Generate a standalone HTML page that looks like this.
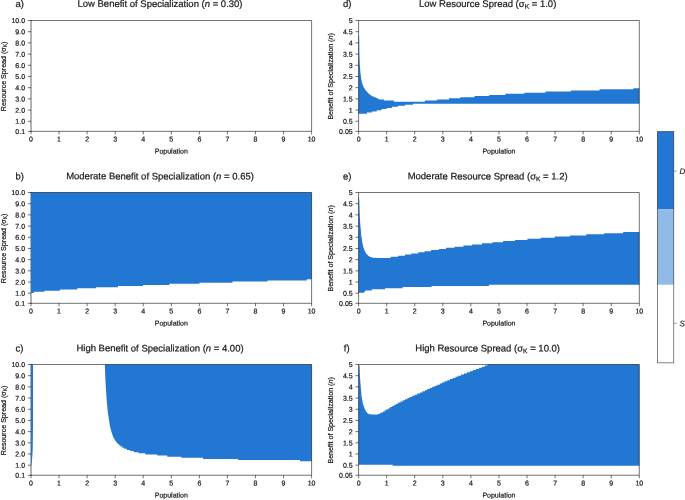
<!DOCTYPE html>
<html lang="en"><head><meta charset="utf-8"><title>Figure</title>
<style>html,body{margin:0;padding:0;background:#fff}body{width:685px;height:500px;overflow:hidden}svg{display:block}</style></head>
<body>
<svg width="685" height="500" viewBox="0 0 685 500" font-family="'Liberation Sans', sans-serif">
<style>text{stroke:#1a1a1a;stroke-width:0.22px;}</style>
<rect width="685" height="500" fill="#fff"/>
<path d="M31.00 20.00V131.85M31.00 192.00V303.80M31.00 364.00V475.75" stroke="#000" stroke-opacity="0.6" stroke-width="1" fill="none"/>
<g fill="#2277d3">
<polygon points="31.00,192.50 311.60,192.50 311.60,279.28 306.83,279.28 306.83,280.41 267.55,280.41 267.55,281.55 232.47,281.55 232.47,282.69 199.36,282.69 199.36,283.82 169.34,283.82 169.34,284.95 142.96,284.95 142.96,286.09 117.99,286.09 117.99,287.22 96.10,287.22 96.10,288.36 77.30,288.36 77.30,289.50 59.90,289.50 59.90,290.63 44.47,290.63 44.47,291.76 33.81,291.76 33.81,292.90 31.00,292.90"/>
<polygon points="104.80,364.50 104.80,364.40 105.50,382.00 106.10,391.00 106.60,399.60 107.90,412.80 109.90,426.00 111.40,431.80 113.20,437.00 115.20,440.60 117.60,443.60 119.00,444.38 119.25,444.38 119.25,445.50 120.50,445.50 120.50,446.62 122.25,446.62 122.25,447.74 124.25,447.74 124.25,448.86 126.75,448.86 126.75,449.99 130.00,449.99 130.00,451.11 133.75,451.11 133.75,452.23 138.50,452.23 138.50,453.35 145.25,453.35 145.25,454.47 157.25,454.47 157.25,455.59 167.25,455.59 167.25,456.71 181.25,456.71 181.25,457.84 203.00,457.84 203.00,458.96 238.00,458.96 238.00,460.08 300.00,460.08 300.00,461.20 311.50,461.20 311.60,461.20 311.60,364.50"/>
<polygon points="358.60,34.00 359.20,38.00 359.35,53.00 359.80,64.20 360.40,72.60 361.10,78.20 361.75,81.60 362.40,84.00 363.70,87.20 365.80,90.60 368.30,93.30 369.70,94.40 372.50,96.20 376.00,97.70 378.80,98.90 378.80,99.40 384.00,99.40 384.00,100.50 393.80,100.50 393.80,101.65 424.85,101.65 424.85,100.50 437.10,100.50 437.10,99.40 449.00,99.40 449.00,98.25 460.40,98.25 460.40,97.15 474.50,97.15 474.50,96.00 489.30,96.00 489.30,94.90 505.20,94.90 505.20,93.80 524.30,93.80 524.30,92.65 545.50,92.65 545.50,91.55 570.90,91.55 570.90,90.40 599.50,90.40 599.50,89.30 633.40,89.30 633.40,88.20 639.30,88.20 639.30,103.75 413.00,103.75 413.00,104.70 405.10,104.70 405.10,105.70 397.90,105.70 397.90,106.80 392.10,106.80 392.10,107.90 386.80,107.90 386.80,109.00 381.60,109.00 381.60,110.20 376.70,110.20 376.70,111.40 371.80,111.40 371.80,112.50 366.90,112.50 366.90,113.70 358.60,113.70"/>
<polygon points="358.60,196.00 359.25,200.00 359.65,212.50 360.30,224.50 361.20,235.00 362.60,244.00 364.00,249.25 366.25,253.75 369.25,256.45 373.00,257.80 379.00,257.90 390.70,257.90 390.70,256.78 398.20,256.78 398.20,255.66 405.00,255.66 405.00,254.54 411.20,254.54 411.20,253.41 418.30,253.41 418.30,252.29 424.50,252.29 424.50,251.17 431.10,251.17 431.10,250.05 438.80,250.05 438.80,248.93 446.00,248.93 446.00,247.81 454.50,247.81 454.50,246.68 463.40,246.68 463.40,245.56 472.20,245.56 472.20,244.44 482.00,244.44 482.00,243.32 492.30,243.32 492.30,242.20 503.10,242.20 503.10,241.08 514.90,241.08 514.90,239.96 527.40,239.96 527.40,238.83 540.60,238.83 540.60,237.71 554.80,237.71 554.80,236.59 570.00,236.59 570.00,235.47 586.20,235.47 586.20,234.35 604.20,234.35 604.20,233.23 623.20,233.23 623.20,232.11 639.30,232.11 639.30,284.70 488.90,284.70 488.90,285.90 431.50,285.90 431.50,287.00 402.60,287.00 402.60,288.15 385.00,288.15 385.00,289.30 371.80,289.30 371.80,290.50 365.50,290.50 363.90,292.85 358.60,292.85"/>
<polygon points="358.90,364.50 359.56,366.00 360.04,378.00 360.76,387.60 361.60,396.00 362.80,403.20 364.36,408.00 366.04,411.40 367.50,413.30 369.30,414.30 373.00,414.50 377.60,414.40 379.00,413.80 380.00,413.72 380.50,413.72 380.50,412.60 383.00,412.60 383.00,411.48 384.75,411.48 384.75,410.37 386.50,410.37 386.50,409.25 388.50,409.25 388.50,408.13 390.25,408.13 390.25,407.01 392.25,407.01 392.25,405.89 394.25,405.89 394.25,404.77 396.25,404.77 396.25,403.65 398.25,403.65 398.25,402.54 400.50,402.54 400.50,401.42 402.75,401.42 402.75,400.30 405.00,400.30 405.00,399.18 407.50,399.18 407.50,398.06 409.75,398.06 409.75,396.94 412.25,396.94 412.25,395.82 414.75,395.82 414.75,394.70 417.25,394.70 417.25,393.59 420.00,393.59 420.00,392.47 422.50,392.47 422.50,391.35 425.00,391.35 425.00,390.23 427.25,390.23 427.25,389.11 429.75,389.11 429.75,387.99 432.25,387.99 432.25,386.87 434.75,386.87 434.75,385.76 437.25,385.76 437.25,384.64 439.75,384.64 439.75,383.52 442.00,383.52 442.00,382.40 444.50,382.40 444.50,381.28 447.25,381.28 447.25,380.16 450.00,380.16 450.00,379.04 452.75,379.04 452.75,377.92 455.50,377.92 455.50,376.81 458.00,376.81 458.00,375.69 461.00,375.69 461.00,374.57 464.00,374.57 464.00,373.45 467.00,373.45 467.00,372.33 470.00,372.33 470.00,371.21 472.75,371.21 472.75,370.09 476.00,370.09 476.00,368.97 479.00,368.97 479.00,367.86 482.00,367.86 482.00,366.74 484.75,366.74 484.75,365.62 487.50,365.62 487.50,364.50 488.50,364.50 639.30,364.50 639.30,465.70 392.70,465.70 392.70,464.85 358.60,464.85 358.60,364.50"/>
</g>
<path d="M30.50 20.50H311.60V131.35H30.50M27.80 20.50H31.00M27.80 31.70H31.00M27.80 42.89H31.00M27.80 54.09H31.00M27.80 65.29H31.00M27.80 76.48H31.00M27.80 87.68H31.00M27.80 98.88H31.00M27.80 110.08H31.00M27.80 121.27H31.00M27.80 131.35H31.00M31.00 131.35V134.35M59.06 131.35V134.35M87.12 131.35V134.35M115.18 131.35V134.35M143.24 131.35V134.35M171.30 131.35V134.35M199.36 131.35V134.35M227.42 131.35V134.35M255.48 131.35V134.35M283.54 131.35V134.35M311.60 131.35V134.35" stroke="#000" stroke-opacity="0.55" stroke-width="1" fill="none"/>
<g font-size="7" fill="#1a1a1a">
<g text-anchor="end">
<text transform="translate(25.10 23.10) rotate(0.03)">10.0</text>
<text transform="translate(25.10 34.30) rotate(0.03)">9.0</text>
<text transform="translate(25.10 45.49) rotate(0.03)">8.0</text>
<text transform="translate(25.10 56.69) rotate(0.03)">7.0</text>
<text transform="translate(25.10 67.89) rotate(0.03)">6.0</text>
<text transform="translate(25.10 79.08) rotate(0.03)">5.0</text>
<text transform="translate(25.10 90.28) rotate(0.03)">4.0</text>
<text transform="translate(25.10 101.48) rotate(0.03)">3.0</text>
<text transform="translate(25.10 112.68) rotate(0.03)">2.0</text>
<text transform="translate(25.10 123.87) rotate(0.03)">1.0</text>
<text transform="translate(25.10 133.95) rotate(0.03)">0.1</text>
</g><g text-anchor="middle">
<text transform="translate(31.00 141.60) rotate(0.03)">0</text>
<text transform="translate(59.06 141.60) rotate(0.03)">1</text>
<text transform="translate(87.12 141.60) rotate(0.03)">2</text>
<text transform="translate(115.18 141.60) rotate(0.03)">3</text>
<text transform="translate(143.24 141.60) rotate(0.03)">4</text>
<text transform="translate(171.30 141.60) rotate(0.03)">5</text>
<text transform="translate(199.36 141.60) rotate(0.03)">6</text>
<text transform="translate(227.42 141.60) rotate(0.03)">7</text>
<text transform="translate(255.48 141.60) rotate(0.03)">8</text>
<text transform="translate(283.54 141.60) rotate(0.03)">9</text>
<text transform="translate(311.60 141.60) rotate(0.03)">10</text>
<text transform="translate(171.30 153.60) rotate(0.03)">Population</text>
<text font-size="7.1" transform="translate(5.70 76.42) rotate(-90)">Resource Spread (σ<tspan font-size="5" dy="1.4">K</tspan><tspan dy="-1.4">)</tspan></text>
</g></g>
<g font-size="9.5" fill="#1a1a1a"><text transform="translate(15.40 6.90) rotate(0.03)">a)</text>
<text transform="translate(160.00 6.90) rotate(0.03)" text-anchor="middle">Low Benefit of Specialization (<tspan font-style="italic">n</tspan> = 0.30)</text></g>
<path d="M358.60 20.50H639.30V131.35H358.60ZM355.40 20.50H358.60M355.40 31.70H358.60M355.40 42.89H358.60M355.40 54.09H358.60M355.40 65.29H358.60M355.40 76.48H358.60M355.40 87.68H358.60M355.40 98.88H358.60M355.40 110.08H358.60M355.40 121.27H358.60M355.40 131.35H358.60M358.60 131.35V134.35M386.67 131.35V134.35M414.74 131.35V134.35M442.81 131.35V134.35M470.88 131.35V134.35M498.95 131.35V134.35M527.02 131.35V134.35M555.09 131.35V134.35M583.16 131.35V134.35M611.23 131.35V134.35M639.30 131.35V134.35" stroke="#000" stroke-opacity="0.55" stroke-width="1" fill="none"/>
<g font-size="7" fill="#1a1a1a">
<g text-anchor="end">
<text transform="translate(352.70 23.10) rotate(0.03)">5</text>
<text transform="translate(352.70 34.30) rotate(0.03)">4.5</text>
<text transform="translate(352.70 45.49) rotate(0.03)">4</text>
<text transform="translate(352.70 56.69) rotate(0.03)">3.5</text>
<text transform="translate(352.70 67.89) rotate(0.03)">3</text>
<text transform="translate(352.70 79.08) rotate(0.03)">2.5</text>
<text transform="translate(352.70 90.28) rotate(0.03)">2</text>
<text transform="translate(352.70 101.48) rotate(0.03)">1.5</text>
<text transform="translate(352.70 112.68) rotate(0.03)">1</text>
<text transform="translate(352.70 123.87) rotate(0.03)">0.5</text>
<text transform="translate(352.70 133.95) rotate(0.03)">0.05</text>
</g><g text-anchor="middle">
<text transform="translate(358.60 141.60) rotate(0.03)">0</text>
<text transform="translate(386.67 141.60) rotate(0.03)">1</text>
<text transform="translate(414.74 141.60) rotate(0.03)">2</text>
<text transform="translate(442.81 141.60) rotate(0.03)">3</text>
<text transform="translate(470.88 141.60) rotate(0.03)">4</text>
<text transform="translate(498.95 141.60) rotate(0.03)">5</text>
<text transform="translate(527.02 141.60) rotate(0.03)">6</text>
<text transform="translate(555.09 141.60) rotate(0.03)">7</text>
<text transform="translate(583.16 141.60) rotate(0.03)">8</text>
<text transform="translate(611.23 141.60) rotate(0.03)">9</text>
<text transform="translate(639.30 141.60) rotate(0.03)">10</text>
<text transform="translate(498.95 153.60) rotate(0.03)">Population</text>
<text font-size="7.1" transform="translate(332.80 76.42) rotate(-90)">Benefit of Specialization (<tspan font-style="italic">n</tspan>)</text>
</g></g>
<g font-size="9.5" fill="#1a1a1a"><text transform="translate(343.00 6.90) rotate(0.03)">d)</text>
<text transform="translate(487.65 6.90) rotate(0.03)" text-anchor="middle">Low Resource Spread (σ<tspan font-size="6.7" dy="1.8">K</tspan><tspan dy="-1.8"> = 1.0)</tspan></text></g>
<path d="M30.50 192.50H311.60V303.30H30.50M27.80 192.50H31.00M27.80 203.69H31.00M27.80 214.88H31.00M27.80 226.08H31.00M27.80 237.27H31.00M27.80 248.46H31.00M27.80 259.65H31.00M27.80 270.84H31.00M27.80 282.04H31.00M27.80 293.23H31.00M27.80 303.30H31.00M31.00 303.30V306.30M59.06 303.30V306.30M87.12 303.30V306.30M115.18 303.30V306.30M143.24 303.30V306.30M171.30 303.30V306.30M199.36 303.30V306.30M227.42 303.30V306.30M255.48 303.30V306.30M283.54 303.30V306.30M311.60 303.30V306.30" stroke="#000" stroke-opacity="0.55" stroke-width="1" fill="none"/>
<g font-size="7" fill="#1a1a1a">
<g text-anchor="end">
<text transform="translate(25.10 195.10) rotate(0.03)">10.0</text>
<text transform="translate(25.10 206.29) rotate(0.03)">9.0</text>
<text transform="translate(25.10 217.48) rotate(0.03)">8.0</text>
<text transform="translate(25.10 228.68) rotate(0.03)">7.0</text>
<text transform="translate(25.10 239.87) rotate(0.03)">6.0</text>
<text transform="translate(25.10 251.06) rotate(0.03)">5.0</text>
<text transform="translate(25.10 262.25) rotate(0.03)">4.0</text>
<text transform="translate(25.10 273.44) rotate(0.03)">3.0</text>
<text transform="translate(25.10 284.64) rotate(0.03)">2.0</text>
<text transform="translate(25.10 295.83) rotate(0.03)">1.0</text>
<text transform="translate(25.10 305.90) rotate(0.03)">0.1</text>
</g><g text-anchor="middle">
<text transform="translate(31.00 313.55) rotate(0.03)">0</text>
<text transform="translate(59.06 313.55) rotate(0.03)">1</text>
<text transform="translate(87.12 313.55) rotate(0.03)">2</text>
<text transform="translate(115.18 313.55) rotate(0.03)">3</text>
<text transform="translate(143.24 313.55) rotate(0.03)">4</text>
<text transform="translate(171.30 313.55) rotate(0.03)">5</text>
<text transform="translate(199.36 313.55) rotate(0.03)">6</text>
<text transform="translate(227.42 313.55) rotate(0.03)">7</text>
<text transform="translate(255.48 313.55) rotate(0.03)">8</text>
<text transform="translate(283.54 313.55) rotate(0.03)">9</text>
<text transform="translate(311.60 313.55) rotate(0.03)">10</text>
<text transform="translate(171.30 325.55) rotate(0.03)">Population</text>
<text font-size="7.1" transform="translate(5.70 248.40) rotate(-90)">Resource Spread (σ<tspan font-size="5" dy="1.4">K</tspan><tspan dy="-1.4">)</tspan></text>
</g></g>
<g font-size="9.5" fill="#1a1a1a"><text transform="translate(15.40 179.40) rotate(0.03)">b)</text>
<text transform="translate(160.00 179.40) rotate(0.03)" text-anchor="middle">Moderate Benefit of Specialization (<tspan font-style="italic">n</tspan> = 0.65)</text></g>
<path d="M358.60 192.50H639.30V303.30H358.60ZM355.40 192.50H358.60M355.40 203.69H358.60M355.40 214.88H358.60M355.40 226.08H358.60M355.40 237.27H358.60M355.40 248.46H358.60M355.40 259.65H358.60M355.40 270.84H358.60M355.40 282.04H358.60M355.40 293.23H358.60M355.40 303.30H358.60M358.60 303.30V306.30M386.67 303.30V306.30M414.74 303.30V306.30M442.81 303.30V306.30M470.88 303.30V306.30M498.95 303.30V306.30M527.02 303.30V306.30M555.09 303.30V306.30M583.16 303.30V306.30M611.23 303.30V306.30M639.30 303.30V306.30" stroke="#000" stroke-opacity="0.55" stroke-width="1" fill="none"/>
<g font-size="7" fill="#1a1a1a">
<g text-anchor="end">
<text transform="translate(352.70 195.10) rotate(0.03)">5</text>
<text transform="translate(352.70 206.29) rotate(0.03)">4.5</text>
<text transform="translate(352.70 217.48) rotate(0.03)">4</text>
<text transform="translate(352.70 228.68) rotate(0.03)">3.5</text>
<text transform="translate(352.70 239.87) rotate(0.03)">3</text>
<text transform="translate(352.70 251.06) rotate(0.03)">2.5</text>
<text transform="translate(352.70 262.25) rotate(0.03)">2</text>
<text transform="translate(352.70 273.44) rotate(0.03)">1.5</text>
<text transform="translate(352.70 284.64) rotate(0.03)">1</text>
<text transform="translate(352.70 295.83) rotate(0.03)">0.5</text>
<text transform="translate(352.70 305.90) rotate(0.03)">0.05</text>
</g><g text-anchor="middle">
<text transform="translate(358.60 313.55) rotate(0.03)">0</text>
<text transform="translate(386.67 313.55) rotate(0.03)">1</text>
<text transform="translate(414.74 313.55) rotate(0.03)">2</text>
<text transform="translate(442.81 313.55) rotate(0.03)">3</text>
<text transform="translate(470.88 313.55) rotate(0.03)">4</text>
<text transform="translate(498.95 313.55) rotate(0.03)">5</text>
<text transform="translate(527.02 313.55) rotate(0.03)">6</text>
<text transform="translate(555.09 313.55) rotate(0.03)">7</text>
<text transform="translate(583.16 313.55) rotate(0.03)">8</text>
<text transform="translate(611.23 313.55) rotate(0.03)">9</text>
<text transform="translate(639.30 313.55) rotate(0.03)">10</text>
<text transform="translate(498.95 325.55) rotate(0.03)">Population</text>
<text font-size="7.1" transform="translate(332.80 248.40) rotate(-90)">Benefit of Specialization (<tspan font-style="italic">n</tspan>)</text>
</g></g>
<g font-size="9.5" fill="#1a1a1a"><text transform="translate(343.00 179.40) rotate(0.03)">e)</text>
<text transform="translate(487.65 179.40) rotate(0.03)" text-anchor="middle">Moderate Resource Spread (σ<tspan font-size="6.7" dy="1.8">K</tspan><tspan dy="-1.8"> = 1.2)</tspan></text></g>
<path d="M30.50 364.50H311.60V475.25H30.50M27.80 364.50H31.00M27.80 375.69H31.00M27.80 386.87H31.00M27.80 398.06H31.00M27.80 409.25H31.00M27.80 420.43H31.00M27.80 431.62H31.00M27.80 442.81H31.00M27.80 453.99H31.00M27.80 465.18H31.00M27.80 475.25H31.00M31.00 475.25V478.25M59.06 475.25V478.25M87.12 475.25V478.25M115.18 475.25V478.25M143.24 475.25V478.25M171.30 475.25V478.25M199.36 475.25V478.25M227.42 475.25V478.25M255.48 475.25V478.25M283.54 475.25V478.25M311.60 475.25V478.25" stroke="#000" stroke-opacity="0.55" stroke-width="1" fill="none"/>
<g font-size="7" fill="#1a1a1a">
<g text-anchor="end">
<text transform="translate(25.10 367.10) rotate(0.03)">10.0</text>
<text transform="translate(25.10 378.29) rotate(0.03)">9.0</text>
<text transform="translate(25.10 389.47) rotate(0.03)">8.0</text>
<text transform="translate(25.10 400.66) rotate(0.03)">7.0</text>
<text transform="translate(25.10 411.85) rotate(0.03)">6.0</text>
<text transform="translate(25.10 423.03) rotate(0.03)">5.0</text>
<text transform="translate(25.10 434.22) rotate(0.03)">4.0</text>
<text transform="translate(25.10 445.41) rotate(0.03)">3.0</text>
<text transform="translate(25.10 456.59) rotate(0.03)">2.0</text>
<text transform="translate(25.10 467.78) rotate(0.03)">1.0</text>
<text transform="translate(25.10 477.85) rotate(0.03)">0.1</text>
</g><g text-anchor="middle">
<text transform="translate(31.00 485.50) rotate(0.03)">0</text>
<text transform="translate(59.06 485.50) rotate(0.03)">1</text>
<text transform="translate(87.12 485.50) rotate(0.03)">2</text>
<text transform="translate(115.18 485.50) rotate(0.03)">3</text>
<text transform="translate(143.24 485.50) rotate(0.03)">4</text>
<text transform="translate(171.30 485.50) rotate(0.03)">5</text>
<text transform="translate(199.36 485.50) rotate(0.03)">6</text>
<text transform="translate(227.42 485.50) rotate(0.03)">7</text>
<text transform="translate(255.48 485.50) rotate(0.03)">8</text>
<text transform="translate(283.54 485.50) rotate(0.03)">9</text>
<text transform="translate(311.60 485.50) rotate(0.03)">10</text>
<text transform="translate(171.30 497.50) rotate(0.03)">Population</text>
<text font-size="7.1" transform="translate(5.70 420.38) rotate(-90)">Resource Spread (σ<tspan font-size="5" dy="1.4">K</tspan><tspan dy="-1.4">)</tspan></text>
</g></g>
<g font-size="9.5" fill="#1a1a1a"><text transform="translate(15.40 351.40) rotate(0.03)">c)</text>
<text transform="translate(160.00 351.40) rotate(0.03)" text-anchor="middle">High Benefit of Specialization (<tspan font-style="italic">n</tspan> = 4.00)</text></g>
<path d="M358.60 364.50H639.30V475.25H358.60ZM355.40 364.50H358.60M355.40 375.69H358.60M355.40 386.87H358.60M355.40 398.06H358.60M355.40 409.25H358.60M355.40 420.43H358.60M355.40 431.62H358.60M355.40 442.81H358.60M355.40 453.99H358.60M355.40 465.18H358.60M355.40 475.25H358.60M358.60 475.25V478.25M386.67 475.25V478.25M414.74 475.25V478.25M442.81 475.25V478.25M470.88 475.25V478.25M498.95 475.25V478.25M527.02 475.25V478.25M555.09 475.25V478.25M583.16 475.25V478.25M611.23 475.25V478.25M639.30 475.25V478.25" stroke="#000" stroke-opacity="0.55" stroke-width="1" fill="none"/>
<g font-size="7" fill="#1a1a1a">
<g text-anchor="end">
<text transform="translate(352.70 367.10) rotate(0.03)">5</text>
<text transform="translate(352.70 378.29) rotate(0.03)">4.5</text>
<text transform="translate(352.70 389.47) rotate(0.03)">4</text>
<text transform="translate(352.70 400.66) rotate(0.03)">3.5</text>
<text transform="translate(352.70 411.85) rotate(0.03)">3</text>
<text transform="translate(352.70 423.03) rotate(0.03)">2.5</text>
<text transform="translate(352.70 434.22) rotate(0.03)">2</text>
<text transform="translate(352.70 445.41) rotate(0.03)">1.5</text>
<text transform="translate(352.70 456.59) rotate(0.03)">1</text>
<text transform="translate(352.70 467.78) rotate(0.03)">0.5</text>
<text transform="translate(352.70 477.85) rotate(0.03)">0.05</text>
</g><g text-anchor="middle">
<text transform="translate(358.60 485.50) rotate(0.03)">0</text>
<text transform="translate(386.67 485.50) rotate(0.03)">1</text>
<text transform="translate(414.74 485.50) rotate(0.03)">2</text>
<text transform="translate(442.81 485.50) rotate(0.03)">3</text>
<text transform="translate(470.88 485.50) rotate(0.03)">4</text>
<text transform="translate(498.95 485.50) rotate(0.03)">5</text>
<text transform="translate(527.02 485.50) rotate(0.03)">6</text>
<text transform="translate(555.09 485.50) rotate(0.03)">7</text>
<text transform="translate(583.16 485.50) rotate(0.03)">8</text>
<text transform="translate(611.23 485.50) rotate(0.03)">9</text>
<text transform="translate(639.30 485.50) rotate(0.03)">10</text>
<text transform="translate(498.95 497.50) rotate(0.03)">Population</text>
<text font-size="7.1" transform="translate(332.80 420.38) rotate(-90)">Benefit of Specialization (<tspan font-style="italic">n</tspan>)</text>
</g></g>
<g font-size="9.5" fill="#1a1a1a"><text transform="translate(343.80 351.40) rotate(0.03)">f)</text>
<text transform="translate(487.65 351.40) rotate(0.03)" text-anchor="middle">High Resource Spread (σ<tspan font-size="6.7" dy="1.8">K</tspan><tspan dy="-1.8"> = 10.0)</tspan></text></g>
<polygon points="31.00,365.00 33.05,365.00 33.05,420.00 32.90,435.00 32.70,450.00 32.10,460.00 31.40,465.00 31.00,465.30" fill="#2277d3"/>
<rect x="657.45" y="131.6" width="16.25" height="77.80" fill="#2277d3"/>
<rect x="657.45" y="209.4" width="16.25" height="75.30" fill="#90bbe9"/>
<rect x="657.45" y="131.6" width="16.25" height="231.20" fill="none" stroke="#000" stroke-opacity="0.55" stroke-width="0.9"/>
<path d="M673.7 171.1h3.1M673.7 323.3h3.1" stroke="#666" stroke-width="1" stroke-opacity="0.6"/>
<g font-size="8" font-style="italic" fill="#1a1a1a"><text transform="translate(679.6 174) rotate(0.03)" style="stroke-width:0.12px">D</text><text transform="translate(679.6 326.2) rotate(0.03)" style="stroke-width:0.12px">S</text></g>
</svg>
</body></html>
